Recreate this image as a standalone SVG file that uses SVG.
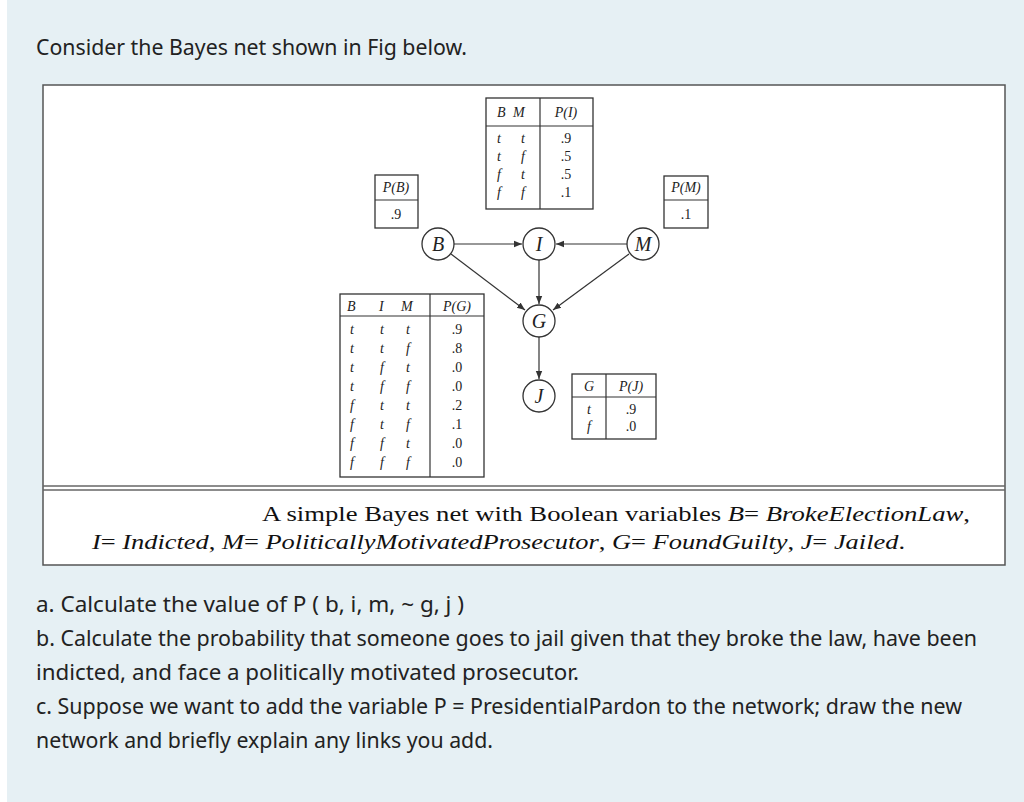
<svg xmlns="http://www.w3.org/2000/svg" width="1024" height="802" viewBox="0 0 1024 802">
<defs>
<marker id="ah" viewBox="0 0 10 10" refX="10" refY="5" markerWidth="8" markerHeight="8" orient="auto" markerUnits="userSpaceOnUse"><path d="M0,1 L10,5 L0,9 z" fill="#333"/></marker>
</defs>
<style>
.q{font-family:"Noto Sans","Open Sans",sans-serif;font-size:21.5px;fill:#222}
.t{font-family:"Liberation Serif",serif;font-size:14px;fill:#222}
.ti{font-family:"Liberation Serif",serif;font-size:14px;font-style:italic;fill:#222}
.n{font-family:"Liberation Serif",serif;font-size:20px;font-style:italic;fill:#222}
.c{font-family:"Liberation Serif",serif;font-size:22px;fill:#111}
.box{fill:#fff;stroke:#333;stroke-width:1.3}
.ln{stroke:#333;stroke-width:1.2;fill:none}
.nd{fill:#fff;stroke:#333;stroke-width:1.3}
</style>
<rect x="0" y="0" width="1024" height="802" fill="#fff"/>
<rect x="7" y="0" width="1017" height="802" fill="#e6f0f4"/>
<text class="q" x="36" y="55" textLength="431" lengthAdjust="spacingAndGlyphs">Consider the Bayes net shown in Fig below.</text>
<rect x="43" y="85" width="962" height="480" fill="#fff" stroke="#555" stroke-width="1.5"/>
<line x1="43" y1="486" x2="1005" y2="486" stroke="#666" stroke-width="1.5"/>
<line x1="43" y1="490" x2="1005" y2="490" stroke="#666" stroke-width="1.5"/>
<g id="connectors">
<line class="ln" x1="454" y1="244" x2="522" y2="244" marker-end="url(#ah)"/>
<line class="ln" x1="627" y1="244" x2="556" y2="244" marker-end="url(#ah)"/>
<line class="ln" x1="451" y1="254" x2="525" y2="310" marker-end="url(#ah)"/>
<line class="ln" x1="629" y1="254" x2="553" y2="310" marker-end="url(#ah)"/>
<line class="ln" x1="539" y1="260" x2="539" y2="304" marker-end="url(#ah)"/>
<line class="ln" x1="539" y1="337" x2="539" y2="379" marker-end="url(#ah)"/>
</g>
<g id="node-B"><circle class="nd" cx="438" cy="244" r="16"/><text class="n" x="438" y="251" text-anchor="middle">B</text></g>
<g id="node-I"><circle class="nd" cx="539" cy="244" r="16"/><text class="n" x="539" y="251" text-anchor="middle">I</text></g>
<g id="node-M"><circle class="nd" cx="643" cy="244" r="16"/><text class="n" x="643" y="251" text-anchor="middle">M</text></g>
<g id="node-G"><circle class="nd" cx="539" cy="321" r="16"/><text class="n" x="539" y="328" text-anchor="middle">G</text></g>
<g id="node-J"><circle class="nd" cx="539" cy="396" r="16"/><text class="n" x="539" y="403" text-anchor="middle">J</text></g>
<g id="table-PB">
<rect class="box" x="375" y="175" width="43" height="53"/><line class="ln" x1="375" y1="200" x2="418" y2="200"/>
<text class="ti" x="396" y="192" text-anchor="middle">P(B)</text><text class="t" x="396" y="219" text-anchor="middle">.9</text>
</g>
<g id="table-PM">
<rect class="box" x="664" y="176" width="44" height="52"/><line class="ln" x1="664" y1="200" x2="708" y2="200"/>
<text class="ti" x="686" y="192" text-anchor="middle">P(M)</text><text class="t" x="686" y="219" text-anchor="middle">.1</text>
</g>
<g id="table-PI">
<rect class="box" x="486" y="98" width="107" height="111"/><line class="ln" x1="486" y1="126" x2="593" y2="126"/><line class="ln" x1="540" y1="98" x2="540" y2="209"/>
<text class="ti" x="497" y="117">B</text><text class="ti" x="513" y="117">M</text><text class="ti" x="566" y="117" text-anchor="middle">P(I)</text>
<text class="ti" x="497" y="143">t</text><text class="ti" x="521" y="143">t</text><text class="ti" x="497" y="161">t</text><text class="ti" x="521" y="161">f</text><text class="ti" x="497" y="179">f</text><text class="ti" x="521" y="179">t</text><text class="ti" x="497" y="197">f</text><text class="ti" x="521" y="197">f</text>
<text class="t" x="566" y="143" text-anchor="middle">.9</text><text class="t" x="566" y="161" text-anchor="middle">.5</text><text class="t" x="566" y="179" text-anchor="middle">.5</text><text class="t" x="566" y="197" text-anchor="middle">.1</text>
</g>
<g id="table-PG">
<rect class="box" x="340" y="294" width="144" height="183"/><line class="ln" x1="340" y1="316" x2="484" y2="316"/><line class="ln" x1="430" y1="294" x2="430" y2="477"/>
<text class="ti" x="347" y="311">B</text><text class="ti" x="379" y="311">I</text><text class="ti" x="401" y="311">M</text><text class="ti" x="457" y="311" text-anchor="middle">P(G)</text>
<text class="ti" x="350" y="334">t</text><text class="ti" x="380" y="334">t</text><text class="ti" x="406" y="334">t</text><text class="t" x="457" y="334" text-anchor="middle">.9</text>
<text class="ti" x="350" y="353">t</text><text class="ti" x="380" y="353">t</text><text class="ti" x="406" y="353">f</text><text class="t" x="457" y="353" text-anchor="middle">.8</text>
<text class="ti" x="350" y="372">t</text><text class="ti" x="380" y="372">f</text><text class="ti" x="406" y="372">t</text><text class="t" x="457" y="372" text-anchor="middle">.0</text>
<text class="ti" x="350" y="391">t</text><text class="ti" x="380" y="391">f</text><text class="ti" x="406" y="391">f</text><text class="t" x="457" y="391" text-anchor="middle">.0</text>
<text class="ti" x="350" y="410">f</text><text class="ti" x="380" y="410">t</text><text class="ti" x="406" y="410">t</text><text class="t" x="457" y="410" text-anchor="middle">.2</text>
<text class="ti" x="350" y="429">f</text><text class="ti" x="380" y="429">t</text><text class="ti" x="406" y="429">f</text><text class="t" x="457" y="429" text-anchor="middle">.1</text>
<text class="ti" x="350" y="448">f</text><text class="ti" x="380" y="448">f</text><text class="ti" x="406" y="448">t</text><text class="t" x="457" y="448" text-anchor="middle">.0</text>
<text class="ti" x="350" y="467">f</text><text class="ti" x="380" y="467">f</text><text class="ti" x="406" y="467">f</text><text class="t" x="457" y="467" text-anchor="middle">.0</text>
</g>
<g id="table-PJ">
<rect class="box" x="572" y="374" width="84" height="65"/><line class="ln" x1="572" y1="397" x2="656" y2="397"/><line class="ln" x1="606" y1="374" x2="606" y2="439"/>
<text class="ti" x="589" y="391" text-anchor="middle">G</text><text class="ti" x="631" y="391" text-anchor="middle">P(J)</text>
<text class="ti" x="589" y="414" text-anchor="middle">t</text><text class="t" x="631" y="414" text-anchor="middle">.9</text>
<text class="ti" x="589" y="431" text-anchor="middle">f</text><text class="t" x="631" y="431" text-anchor="middle">.0</text>
</g>
<text class="c" x="262" y="521" textLength="708" lengthAdjust="spacingAndGlyphs">A simple Bayes net with Boolean variables <tspan font-style="italic">B</tspan>= <tspan font-style="italic">BrokeElectionLaw</tspan>,</text>
<text class="c" x="92" y="549" textLength="813" lengthAdjust="spacingAndGlyphs"><tspan font-style="italic">I</tspan>= <tspan font-style="italic">Indicted</tspan>, <tspan font-style="italic">M</tspan>= <tspan font-style="italic">PoliticallyMotivatedProsecutor</tspan>, <tspan font-style="italic">G</tspan>= <tspan font-style="italic">FoundGuilty</tspan>, <tspan font-style="italic">J</tspan>= <tspan font-style="italic">Jailed</tspan>.</text>
<text class="q" x="36" y="612" textLength="428" lengthAdjust="spacingAndGlyphs">a. Calculate the value of P ( b, i, m, ~ g, j )</text>
<text class="q" x="36" y="646" textLength="941" lengthAdjust="spacingAndGlyphs">b. Calculate the probability that someone goes to jail given that they broke the law, have been</text>
<text class="q" x="36" y="680" textLength="543" lengthAdjust="spacingAndGlyphs">indicted, and face a politically motivated prosecutor.</text>
<text class="q" x="36" y="714" textLength="926" lengthAdjust="spacingAndGlyphs">c. Suppose we want to add the variable P = PresidentialPardon to the network; draw the new</text>
<text class="q" x="36" y="748" textLength="457" lengthAdjust="spacingAndGlyphs">network and briefly explain any links you add.</text>
</svg>
